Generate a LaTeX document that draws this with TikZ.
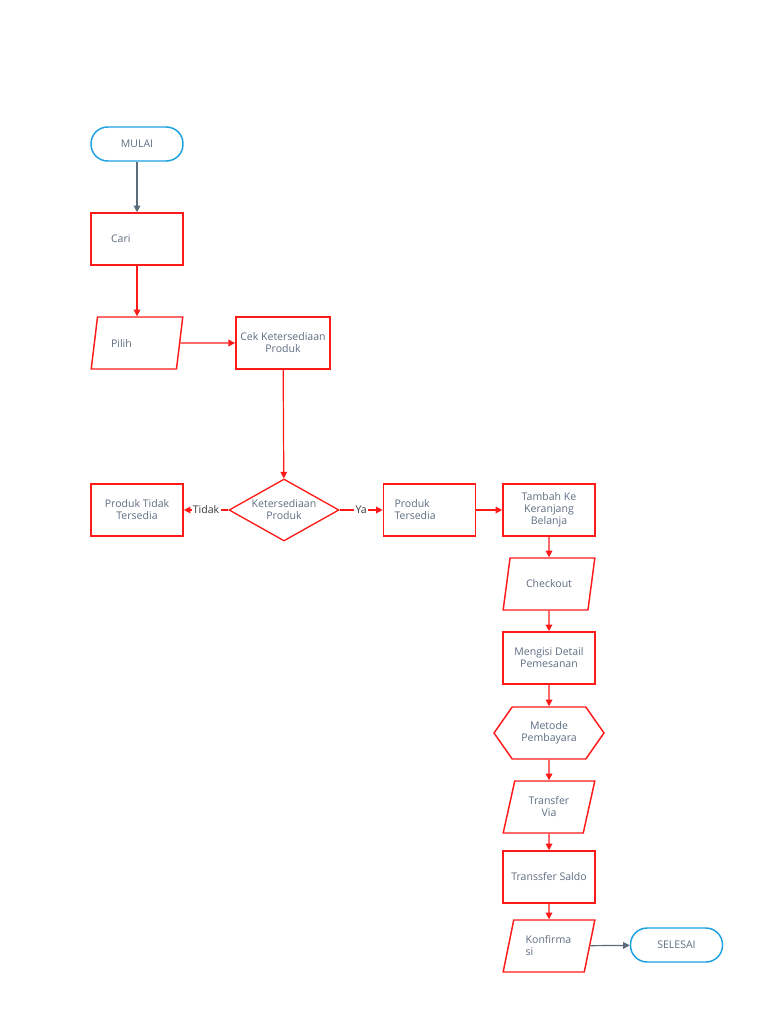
\documentclass[tikz,border=0pt]{standalone}
\usepackage{fontspec}
\setmainfont{Open Sans}
\usetikzlibrary{shapes.geometric,shapes.symbols,arrows.meta,positioning}
\definecolor{flowred}{HTML}{FF1A1A}
\definecolor{termblue}{HTML}{1BA1E2}
\definecolor{slatetext}{HTML}{5E6E82}
\definecolor{slateline}{HTML}{5A6B7C}
\definecolor{labeltext}{HTML}{3A3A3A}

\begin{document}
\begin{tikzpicture}[x=0.75pt,y=-0.75pt,font=\fontsize{7.9}{9}\selectfont,
  terminal/.style={rectangle,rounded corners=12.5pt,draw=termblue,line width=1.1pt,minimum width=69pt,minimum height=25.5pt,text=slatetext},
  process/.style={rectangle,draw=flowred,line width=1.2pt,minimum width=69pt,minimum height=39pt,align=center,text=slatetext},
  io/.style={trapezium,trapezium left angle=74,trapezium right angle=106,trapezium stretches=true,draw=flowred,line width=1.1pt,minimum width=69pt,minimum height=39pt,align=center,text=slatetext},
  decision/.style={diamond,aspect=1.77,draw=flowred,line width=1pt,inner sep=0pt,minimum width=82.5pt,minimum height=46.5pt,align=center,text=slatetext},
  prep/.style={signal,signal to=west and east,signal pointer angle=110,draw=flowred,line width=1.1pt,minimum width=82.5pt,minimum height=39pt,align=center,text=slatetext},
  redflow/.style={draw=flowred,line width=0.9pt,-{Triangle[length=5pt,width=5pt]}},
  greyflow/.style={draw=slateline,line width=0.9pt,-{Triangle[length=5pt,width=5pt]}},
  edgelabel/.style={fill=white,inner sep=1pt,text=labeltext}]
\fill[white] (0,0) rectangle (768,1024);
\useasboundingbox (0,0) rectangle (768,1024);

\node[terminal] (mulai) at (137,144) {MULAI};
\node[process,text width=39pt,inner xsep=15pt,align=left] (cari) at (137,239) {Cari};
\node[io,text width=39pt,align=left] (pilih) at (137,343) {Pilih};
\node[process] (cek) at (283,343) {Cek Ketersediaan\\Produk};
\node[decision] (cekprod) at (284,510) {Ketersediaan\\Produk};
\node[process] (tidakada) at (137,510) {Produk Tidak\\Tersedia};
\node[process,text width=52.5pt,inner xsep=8.25pt,align=left] (tersedia) at (429.5,510) {Produk\\Tersedia};
\node[process] (tambah) at (549,510) {Tambah Ke\\Keranjang\\Belanja};
\node[io] (checkout) at (549,584) {Checkout};
\node[process] (mengisi) at (549,658) {Mengisi Detail\\Pemesanan};
\node[prep] (metode) at (549,733) {Metode\\Pembayara};
\node[io] (transfer) at (549,807) {Transfer\\Via};
\node[process] (saldo) at (549,877) {Transsfer Saldo};
\node[io,text width=35pt,align=left] (konfirmasi) at (549,946) {Konfirma\\si};
\node[terminal] (selesai) at (676.5,945) {SELESAI};

\draw[greyflow] (mulai) -- (cari);
\draw[redflow] (cari) -- (pilih);
\draw[redflow] (pilih) -- (cek);
\draw[redflow] (cek) -- (cekprod);
\draw[redflow] (cekprod) -- node[edgelabel]{Tidak} (tidakada);
\draw[redflow] (cekprod) -- node[edgelabel]{Ya} (tersedia);
\draw[redflow] (tersedia) -- (tambah);
\draw[redflow] (tambah) -- (checkout);
\draw[redflow] (checkout) -- (mengisi);
\draw[redflow] (mengisi) -- (metode);
\draw[redflow] (metode) -- (transfer);
\draw[redflow] (transfer) -- (saldo);
\draw[redflow] (saldo) -- (konfirmasi);
\draw[greyflow] (konfirmasi) -- (selesai);
\end{tikzpicture}
\end{document}
